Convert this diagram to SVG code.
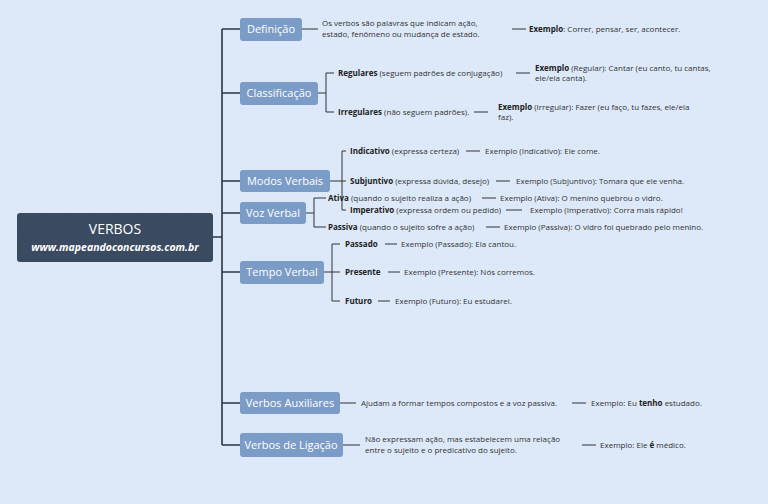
<svg xmlns="http://www.w3.org/2000/svg" width="768" height="504" viewBox="0 0 768 504">
<defs>
<pattern id="g" width="12" height="12" patternUnits="userSpaceOnUse"><path d="M12 0H0V12" fill="none" stroke="#cfe0f4" stroke-width="0.6"/></pattern>
<style>
.n{fill:#7b9cc6;}
.nt{font-family:"Open Sans","DejaVu Sans",sans-serif;font-size:11px;fill:#fff;}
.t{font-family:"Open Sans","DejaVu Sans",sans-serif;font-size:8px;fill:#333;}
.b{font-weight:bold;fill:#222;}
.c{fill:none;stroke:#2b3442;stroke-width:1.6;}
.s{fill:none;stroke:#333;stroke-width:1;}
</style>
</defs>
<rect width="768" height="504" fill="#dde9f8"/>
<rect width="768" height="504" fill="url(#g)"/>
<g id="connectors">
<path class="c" d="M213 237H222M222 29V445M222 29H240M222 93H240M222 181H240M222 213H240M222 272H240M222 403H240M222 445H240"/>
<path class="s" d="M302 29H318M512 29H526M318 93H326V73H334M326 93V112H334M516 73H530M474 112H488"/>
<path class="s" d="M330 181H342M342 151V210H346M342 151H346M342 181H346M466 151H480M496 181H510M506 210H522"/>
<path class="s" d="M306 213H314M314 198V227H326M314 198H326M482 198H496M486 227H500"/>
<path class="s" d="M324 272H332M332 244V301H340M332 244H340M332 272H340M385 244H397M388 272H400M378 301H390"/>
<path class="s" d="M340 403H356M572 403H586M343 445H360M582 445H596"/>
</g>
<g id="central"><rect x="17" y="213" width="196" height="49" rx="3" fill="#3a4a60"/>
<text x="115" y="234" text-anchor="middle" font-family="Open Sans,DejaVu Sans,sans-serif" font-size="14" fill="#fff">VERBOS</text>
<text x="115" y="251" text-anchor="middle" font-family="Open Sans,DejaVu Sans,sans-serif" font-size="10.5" font-style="italic" font-weight="bold" fill="#fff">www.mapeandoconcursos.com.br</text></g>
<g id="definicao"><rect class="n" x="240" y="18" width="62" height="23" rx="3"/><text class="nt" x="271" y="33" text-anchor="middle">Definição</text>
<text class="t" x="322" y="26">Os verbos são palavras que indicam ação,</text><text class="t" x="322" y="37">estado, fenômeno ou mudança de estado.</text>
<text class="t" x="529" y="32"><tspan class="b">Exemplo</tspan>: Correr, pensar, ser, acontecer.</text></g>
<g id="classificacao"><rect class="n" x="240" y="82" width="78" height="23" rx="3"/><text class="nt" x="279" y="97" text-anchor="middle">Classificação</text>
<text class="t" x="338" y="76"><tspan class="b">Regulares</tspan> (seguem padrões de conjugação)</text>
<text class="t" x="535" y="71"><tspan class="b">Exemplo</tspan> (Regular): Cantar (eu canto, tu cantas,</text><text class="t" x="535" y="81">ele/ela canta).</text>
<text class="t" x="338" y="115"><tspan class="b">Irregulares</tspan> (não seguem padrões).</text>
<text class="t" x="498" y="110"><tspan class="b">Exemplo</tspan> (Irregular): Fazer (eu faço, tu fazes, ele/ela</text><text class="t" x="498" y="120">faz).</text></g>
<g id="modos"><rect class="n" x="240" y="170" width="90" height="22" rx="3"/><text class="nt" x="285" y="185" text-anchor="middle">Modos Verbais</text>
<text class="t" x="350" y="154"><tspan class="b">Indicativo</tspan> (expressa certeza)</text><text class="t" x="485" y="154">Exemplo (Indicativo): Ele come.</text>
<text class="t" x="350" y="184"><tspan class="b">Subjuntivo</tspan> (expressa dúvida, desejo)</text><text class="t" x="516" y="184">Exemplo (Subjuntivo): Tomara que ele venha.</text>
<text class="t" x="350" y="213"><tspan class="b">Imperativo</tspan> (expressa ordem ou pedido)</text><text class="t" x="530" y="213">Exemplo (Imperativo): Corra mais rápido!</text></g>
<g id="voz"><rect class="n" x="240" y="202" width="66" height="22" rx="3"/><text class="nt" x="273" y="217" text-anchor="middle">Voz Verbal</text>
<text class="t" x="328" y="201"><tspan class="b">Ativa</tspan> (quando o sujeito realiza a ação)</text><text class="t" x="500" y="201">Exemplo (Ativa): O menino quebrou o vidro.</text>
<text class="t" x="328" y="230"><tspan class="b">Passiva</tspan> (quando o sujeito sofre a ação)</text><text class="t" x="504" y="230">Exemplo (Passiva): O vidro foi quebrado pelo menino.</text></g>
<g id="tempo"><rect class="n" x="240" y="261" width="84" height="23" rx="3"/><text class="nt" x="282" y="276" text-anchor="middle">Tempo Verbal</text>
<text class="t b" x="345" y="247">Passado</text><text class="t" x="401" y="247">Exemplo (Passado): Ela cantou.</text>
<text class="t b" x="345" y="275">Presente</text><text class="t" x="404" y="275">Exemplo (Presente): Nós corremos.</text>
<text class="t b" x="345" y="304">Futuro</text><text class="t" x="395" y="304">Exemplo (Futuro): Eu estudarei.</text></g>
<g id="auxiliares"><rect class="n" x="240" y="392" width="100" height="22" rx="3"/><text class="nt" x="290" y="407" text-anchor="middle">Verbos Auxiliares</text>
<text class="t" x="361" y="406">Ajudam a formar tempos compostos e a voz passiva.</text>
<text class="t" x="591" y="406">Exemplo: Eu <tspan class="b">tenho</tspan> estudado.</text></g>
<g id="ligacao"><rect class="n" x="240" y="433" width="103" height="24" rx="3"/><text class="nt" x="291" y="449" text-anchor="middle">Verbos de Ligação</text>
<text class="t" x="365" y="442">Não expressam ação, mas estabelecem uma relação</text><text class="t" x="365" y="453">entre o sujeito e o predicativo do sujeito.</text>
<text class="t" x="600" y="448">Exemplo: Ele <tspan class="b">é</tspan> médico.</text></g>
</svg>
